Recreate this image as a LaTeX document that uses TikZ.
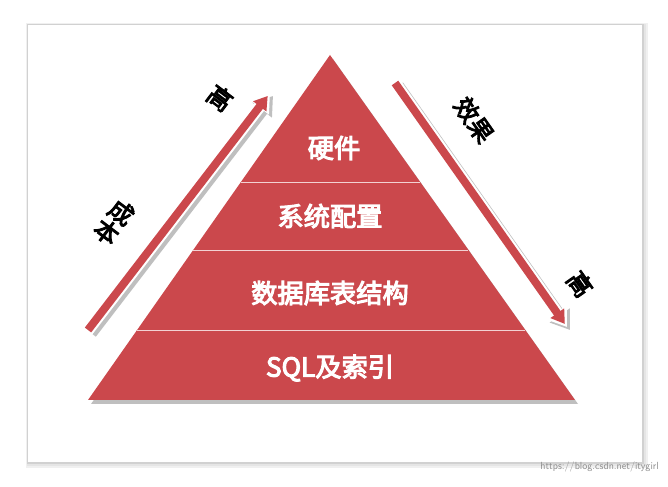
\documentclass[tikz,border=0pt]{standalone}
\usepackage{fontspec}
\newfontfamily\cjk{Noto Sans CJK SC}[AutoFakeBold=4]
\usetikzlibrary{arrows.meta,calc}
\definecolor{pyrred}{RGB}{203,72,76}

\begin{document}
\begin{tikzpicture}[
  x=0.0375cm, y=-0.0375cm,
  bandtext/.style = {
    text=white,
    font=\cjk\bfseries\fontsize{28}{32}\selectfont,
  },
  sidetext/.style = {
    text=black,
    font=\cjk\bfseries\fontsize{26}{28}\selectfont,
    align=center,
    inner sep=1pt,
  },
  trend/.style = {
    pyrred,
    line width=8.5,
    -{Triangle[length=14,width=17]},
  },
  trendrim/.style = {
    white,
    line width=13,
    -{Triangle[length=19,width=25]},
  },
]
  \useasboundingbox (0,0) rectangle (668,487);
  \fill[white] (0,0) rectangle (668,487);

  % card with soft shadow
  \foreach \s/\c in {6/black!6,4/black!10,2/black!18}
    \fill[\c] (28-\s*0.3,25-\s*0.3) rectangle (642+\s,462+\s);
  \fill[white] (28,25) rectangle (642,462);

  % pyramid
  \coordinate (apex) at (330,55);
  \coordinate (bl) at (88,400);
  \coordinate (br) at (575,400);
  \fill[black!25] ($(apex)+(3,4)$) -- ($(bl)+(3,4)$) -- ($(br)+(3,4)$) -- cycle;
  \fill[pyrred] (apex) -- (bl) -- (br) -- cycle;
  \foreach \y in {182,250,330}
    \draw[white!75!pyrred,line width=1pt]
      ($(apex)!{(\y-55)/345}!(bl)$) -- ($(apex)!{(\y-55)/345}!(br)$);

  \node[bandtext] (hw)  at (334,148) {硬件};
  \node[bandtext] (cfg) at (330,216) {系统配置};
  \node[bandtext] (db)  at (330,293) {数据库表结构};
  \node[bandtext] (sql) at (330,368) {SQL及索引};

  % cost arrow
  \coordinate (c0) at (88,330);
  \coordinate (c1) at (270,93);
  \draw[black!25,line width=13,-{Triangle[length=19,width=25]}] ($(c0)+(3,3)$) -- ($(c1)+(3,3)$);
  \draw[trendrim] ($(c0)!-3pt!(c1)$) -- (c1);
  \draw[trend] (c0) -- ($(c1)!4pt!(c0)$);
  \node[sidetext,rotate=-37] (cost) at (114,222) {成\\[-2pt]本};
  \node[sidetext,rotate=-37] (costhi) at (220,98) {高};

  % effect arrow
  \coordinate (e0) at (395,83);
  \coordinate (e1) at (567,327);
  \draw[black!25,line width=13,-{Triangle[length=19,width=25]}] ($(e0)+(3,3)$) -- ($(e1)+(3,3)$);
  \draw[trendrim] ($(e0)!-3pt!(e1)$) -- (e1);
  \draw[trend] (e0) -- ($(e1)!4pt!(e0)$);
  \node[sidetext,rotate=-55] (eff) at (474,120) {效果};
  \node[sidetext,rotate=-55] (effhi) at (580,284) {高};

  \node[text=black!45,font=\sffamily\fontsize{11}{13}\selectfont,anchor=east] (mark) at (662,467) {https://blog.csdn.net/itygirl};
\end{tikzpicture}
\end{document}
